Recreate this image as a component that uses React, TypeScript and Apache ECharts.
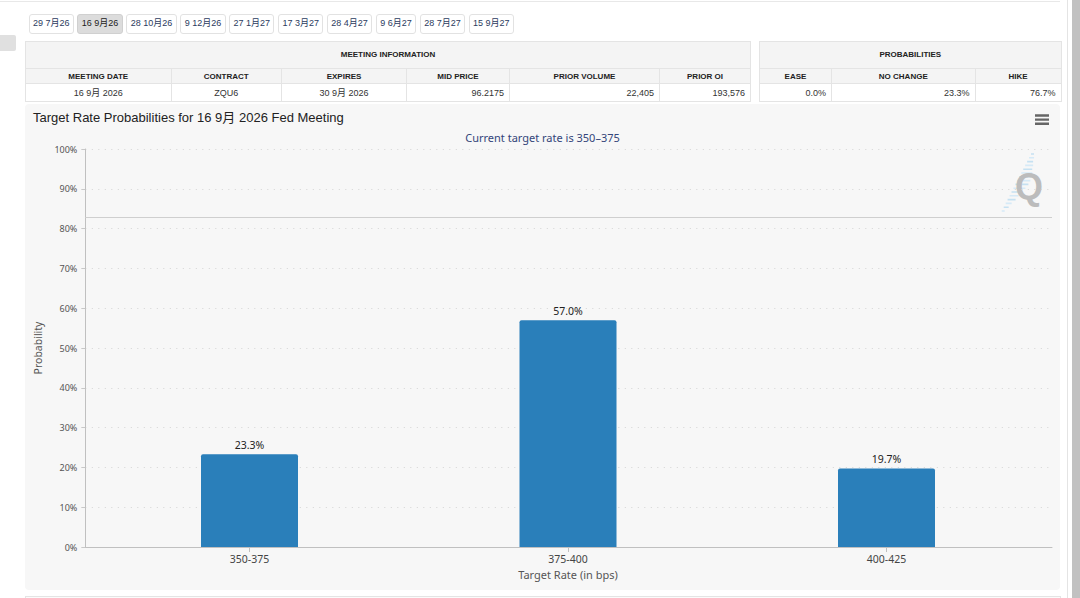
import React, { useEffect, useRef } from 'react';
import * as echarts from 'echarts';

// ---------- data ----------
const meetingTabs = ['29 7月26', '16 9月26', '28 10月26', '9 12月26', '27 1月27', '17 3月27', '28 4月27', '9 6月27', '28 7月27', '15 9月27'];
const selectedTab = 1;

const meetingGroupTitle = 'MEETING INFORMATION';
const meetingHeaders = ['MEETING DATE', 'CONTRACT', 'EXPIRES', 'MID PRICE', 'PRIOR VOLUME', 'PRIOR OI'];
const meetingValues = ['16 9月 2026', 'ZQU6', '30 9月 2026', '96.2175', '22,405', '193,576'];

const probGroupTitle = 'PROBABILITIES';
const probHeaders = ['EASE', 'NO CHANGE', 'HIKE'];
const probValues = ['0.0%', '23.3%', '76.7%'];

const chartTitle = 'Target Rate Probabilities for 16 9月 2026 Fed Meeting';
const chartSubtitle = 'Current target rate is 350–375';
const categories = ['350-375', '375-400', '400-425'];
const probabilities = [23.3, 57.0, 19.7];
const yMin = 0;
const yMax = 100;
const yInterval = 10;
const referenceLineValue = 82.9;
const xAxisTitle = 'Target Rate (in bps)';
const yAxisTitle = 'Probability';

// ---------- layout (not data) ----------
const meetingColWidths = [145.5, 110.5, 125, 103, 150, 91];
const meetingAlign = ['center', 'center', 'center', 'right', 'right', 'right'];
const probColWidths = [72, 143.6, 86];

const FONT_TABLE = '"Liberation Sans", Arial, "Noto Sans CJK SC", sans-serif';
const FONT_CHART = '"Noto Sans", "Noto Sans CJK SC", sans-serif';

function InfoTable(props: { left: number; widths: number[]; title: string; headers: string[]; values: string[]; align: string[] }) {
  const { left, widths, title, headers, values, align } = props;
  const total = widths.reduce((a, b) => a + b, 0);
  const border = '1px solid #e4e4e4';
  return (
    <table
      style={{
        position: 'absolute', left, top: 40.5, width: total, tableLayout: 'fixed',
        borderCollapse: 'collapse', fontFamily: FONT_TABLE, color: '#222',
      }}
    >
      <colgroup>
        {widths.map((w, i) => <col key={i} style={{ width: w }} />)}
      </colgroup>
      <tbody>
        <tr style={{ height: 27.4, background: '#f4f4f4' }}>
          <td colSpan={widths.length} style={{ border, textAlign: 'center', fontWeight: 'bold', fontSize: 8, padding: 0 }}>{title}</td>
        </tr>
        <tr style={{ height: 15.6, background: '#f4f4f4' }}>
          {headers.map((h, i) => (
            <td key={i} style={{ border, textAlign: 'center', fontWeight: 'bold', fontSize: 8, padding: 0 }}>{h}</td>
          ))}
        </tr>
        <tr style={{ height: 17.7, background: '#ffffff' }}>
          {values.map((v, i) => (
            <td key={i} style={{ border, textAlign: align[i] as any, fontSize: 9, padding: '0 5px', color: '#333' }}>{v}</td>
          ))}
        </tr>
      </tbody>
    </table>
  );
}

function Chart() {
  const ref = useRef<HTMLDivElement>(null);
  useEffect(() => {
    if (!ref.current) return;
    const chart = echarts.init(ref.current, undefined, { renderer: 'svg' });

    // decorative watermark dashes (logo)
    const dashes: any[] = [];
    const dashLens = [3, 5, 6, 8, 9, 11, 12, 13, 13, 12, 11, 9, 8, 6, 5, 3];
    dashLens.forEach((len, i) => {
      const y = 50 + i * 3.8;
      const x0 = 1006 - i * 1.95;
      dashes.push({
        type: 'line',
        silent: true,
        shape: { x1: x0, y1: y, x2: x0 + len, y2: y },
        style: { stroke: i % 2 ? '#d6eaf7' : '#c6e1f2', lineWidth: 1.6 },
      });
    });

    const option: any = {
      animation: false,
      backgroundColor: '#f7f7f7',
      title: [
        {
          text: chartTitle,
          left: 8,
          top: 5,
          padding: 0,
          textStyle: { fontFamily: FONT_TABLE, fontSize: 13, fontWeight: 'normal', color: '#222', lineHeight: 16 },
        },
        {
          text: chartSubtitle,
          left: 'center',
          top: 26,
          padding: 0,
          textStyle: { fontFamily: FONT_CHART, fontSize: 11, fontWeight: 'normal', color: '#34457a', lineHeight: 14 },
        },
      ],
      grid: [
        { left: 60, top: 45, width: 967, height: 398 },
        { left: 65.25, top: 45, width: 955.5, height: 398 },
      ],
      xAxis: [
        {
          type: 'category',
          gridIndex: 0,
          data: categories,
          axisLine: { show: true, lineStyle: { color: '#c0c0c0', width: 1 } },
          axisTick: { show: false },
          axisLabel: { show: false },
          splitLine: { show: false },
        },
        {
          type: 'category',
          gridIndex: 1,
          data: categories,
          boundaryGap: true,
          axisLine: { show: false },
          axisTick: { show: true, alignWithLabel: true, length: 5, lineStyle: { color: '#c0c0c0' } },
          axisLabel: { margin: 7, fontFamily: FONT_CHART, fontSize: 10.5, color: '#444' },
          name: xAxisTitle,
          nameLocation: 'middle',
          nameGap: 21,
          nameTextStyle: { fontFamily: FONT_CHART, fontSize: 11, color: '#555' },
        },
      ],
      yAxis: [
        {
          type: 'value',
          gridIndex: 0,
          min: yMin,
          max: yMax,
          interval: yInterval,
          axisLine: { show: true, lineStyle: { color: '#c0c0c0', width: 1 } },
          axisTick: { show: true, length: 4, lineStyle: { color: '#c8c8c8' } },
          axisLabel: { margin: 8, fontFamily: FONT_CHART, fontSize: 9, color: '#555', formatter: '{value}%' },
          splitLine: { show: true, lineStyle: { color: '#d4d4d4', type: [1, 5.5], width: 1 } },
          name: yAxisTitle,
          nameLocation: 'middle',
          nameGap: 36,
          nameTextStyle: { fontFamily: FONT_CHART, fontSize: 10.5, color: '#555' },
        },
        {
          type: 'value',
          gridIndex: 1,
          min: yMin,
          max: yMax,
          interval: yInterval,
          axisLine: { show: false },
          axisTick: { show: false },
          axisLabel: { show: false },
          splitLine: { show: false },
        },
      ],
      series: [
        {
          type: 'line',
          xAxisIndex: 0,
          yAxisIndex: 0,
          data: [],
          silent: true,
          markLine: {
            silent: true,
            symbol: 'none',
            label: { show: false },
            lineStyle: { color: '#cfcfcf', type: 'solid', width: 1 },
            data: [{ yAxis: referenceLineValue }],
          },
        },
        {
          type: 'bar',
          xAxisIndex: 1,
          yAxisIndex: 1,
          data: probabilities,
          barWidth: 97,
          itemStyle: { color: '#2a7fba', borderRadius: [2, 2, 0, 0] },
          label: {
            show: true,
            position: 'top',
            distance: 4,
            fontFamily: FONT_CHART,
            fontSize: 10.5,
            color: '#222',
            formatter: (p: any) => Number(p.value).toFixed(1) + '%',
          },
        },
      ],
      graphic: [
        // menu (hamburger) icon
        { type: 'rect', silent: true, shape: { x: 1010, y: 10.3, width: 14, height: 2.4 }, style: { fill: '#666' } },
        { type: 'rect', silent: true, shape: { x: 1010, y: 14.4, width: 14, height: 2.4 }, style: { fill: '#666' } },
        { type: 'rect', silent: true, shape: { x: 1010, y: 18.6, width: 14, height: 2.4 }, style: { fill: '#666' } },
        // watermark logo
        ...dashes,
        {
          type: 'text',
          silent: true,
          x: 1004,
          y: 82,
          style: {
            text: 'Q',
            fill: '#bcbcbc',
            font: 'bold 36px "Liberation Sans", Arial, sans-serif',
            align: 'center',
            verticalAlign: 'middle',
          },
        },
      ],
    };
    chart.setOption(option);
    return () => chart.dispose();
  }, []);
  return (
    <div
      ref={ref}
      style={{ position: 'absolute', left: 25, top: 104, width: 1035, height: 486, borderRadius: 4, overflow: 'hidden' }}
    />
  );
}

export default function App() {
  return (
    <div
      style={{
        position: 'fixed', left: 0, top: 0, width: 1080, height: 598, background: '#ffffff',
        overflow: 'hidden', fontFamily: FONT_TABLE,
      }}
    >
      {/* top border line */}
      <div style={{ position: 'absolute', left: 0, top: 1, width: 1060, height: 1, background: '#e8e8e8' }} />
      {/* scrollbar */}
      <div style={{ position: 'absolute', left: 1067, top: 0, width: 1, height: 598, background: '#e4e4e4' }} />
      <div style={{ position: 'absolute', left: 1072, top: 0, width: 8, height: 598, background: '#c1c1c1' }} />
      {/* left small gray tab */}
      <div style={{ position: 'absolute', left: 0, top: 35, width: 16, height: 16, background: '#e0e0e0', borderRadius: '0 2px 2px 0' }} />

      {/* meeting tabs */}
      <div style={{ position: 'absolute', left: 28.5, top: 14, display: 'flex', gap: 3.6 }}>
        {meetingTabs.map((t, i) => (
          <div
            key={i}
            style={{
              height: 17.5, lineHeight: '17.5px', padding: '0 3.4px', fontSize: 9,
              border: '1px solid ' + (i === selectedTab ? '#d0d0d0' : '#e2e2e2'), borderRadius: 3,
              background: i === selectedTab ? '#dcdcdc' : '#ffffff',
              color: i === selectedTab ? '#222' : '#2b3b5e', whiteSpace: 'nowrap',
            }}
          >
            {t}
          </div>
        ))}
      </div>

      <InfoTable left={25} widths={meetingColWidths} title={meetingGroupTitle} headers={meetingHeaders} values={meetingValues} align={meetingAlign} />
      <InfoTable left={759} widths={probColWidths} title={probGroupTitle} headers={probHeaders} values={probValues} align={['right', 'right', 'right']} />

      <Chart />

      {/* next box below the chart */}
      <div style={{ position: 'absolute', left: 25, top: 596, width: 1034, height: 10, border: '1px solid #e4e4e4', background: '#fbfbfb' }} />
    </div>
  );
}
